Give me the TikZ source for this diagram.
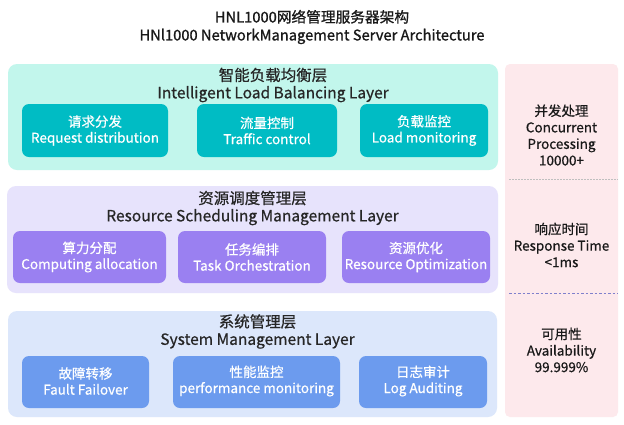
\documentclass[tikz,border=0pt]{standalone}
\usepackage{fontspec}
\setmainfont{Noto Sans CJK SC}
\newfontfamily\medfont{Noto Sans CJK SC}[FakeBold=0.6]
\newfontfamily\semifont{Noto Sans CJK SC}[FakeBold=1.0]
\begin{document}
\begin{tikzpicture}[x=1pt,y=-1pt,
  layer/.style={rounded corners=9pt},
  sub/.style={rounded corners=7pt},
  subtext/.style={text=white,font=\medfont\fontsize{13.5}{16}\selectfont,align=center},
  ltitle/.style={text=black!85,font=\medfont\fontsize{15.5}{17.5}\selectfont,align=center},
  rtext/.style={text=black!90,font=\medfont\fontsize{13.5}{16.5}\selectfont,align=center}]
\definecolor{mintbg}{HTML}{C2F6EC}
\definecolor{tealbx}{HTML}{00BCC4}
\definecolor{lavbg}{HTML}{E7E3FC}
\definecolor{purbx}{HTML}{9A80F1}
\definecolor{bluebg}{HTML}{DCE7FB}
\definecolor{bluebx}{HTML}{6C9BEE}
\definecolor{pinkbg}{HTML}{FDE9EC}
\useasboundingbox (0,0) rectangle (624,424);
\fill[white] (0,0) rectangle (624,424);
% title
\node[font=\semifont\fontsize{14.7}{18}\selectfont,text=black!90,align=center] (title) at (312,27) {HNL1000网络管理服务器架构\\HNl1000 NetworkManagement Server Architecture};
% right panel
\fill[pinkbg,rounded corners=5pt] (505,64) rectangle (618,417);
\coordinate (d1a) at (509,179); \coordinate (d1b) at (618,179);
\coordinate (d2a) at (509,293); \coordinate (d2b) at (618,293);
\draw[black!25,dash pattern=on 1.5pt off 1.5pt,line width=0.6pt] (d1a) -- (d1b);
\draw[black!40!blue!50,dash pattern=on 2.5pt off 2pt,line width=0.6pt] (d2a) -- (d2b);
\node[rtext] (r1) at (561.5,135) {并发处理\\Concurrent\\Processing\\10000+};
\node[rtext] (r2) at (561.5,245) {响应时间\\Response Time\\<1ms};
\node[rtext] (r3) at (561.5,350) {可用性\\Availability\\99.999\%};
% layer 1
\fill[mintbg,layer] (8,64) rectangle (498,170);
\node[ltitle] (l1) at (273,85) {智能负载均衡层\\Intelligent Load Balancing Layer};
\fill[tealbx,sub] (22,104) rectangle (168,157);
\fill[tealbx,sub] (197,104) rectangle (337,157);
\fill[tealbx,sub] (360,104) rectangle (488,157);
\node[subtext] (a1) at (95,130.5) {请求分发\\Request distribution};
\node[subtext] (a2) at (267,130.5) {流量控制\\Traffic control};
\node[subtext] (a3) at (424,130.5) {负载监控\\Load monitoring};
% layer 2
\fill[lavbg,layer] (7,186) rectangle (498,293);
\node[ltitle] (l2) at (252.5,208) {资源调度管理层\\Resource Scheduling Management Layer};
\fill[purbx,sub] (13,231) rectangle (166,283);
\fill[purbx,sub] (178,231) rectangle (326,283);
\fill[purbx,sub] (342,231) rectangle (490,283);
\node[subtext] (b1) at (89.5,257) {算力分配\\Computing allocation};
\node[subtext] (b2) at (252,257) {任务编排\\Task Orchestration};
\node[subtext] (b3) at (416,257) {资源优化\\Resource Optimization};
% layer 3
\fill[bluebg,layer] (8,311) rectangle (497,417);
\node[ltitle] (l3) at (257.5,331.5) {系统管理层\\System Management Layer};
\fill[bluebx,sub] (22,356) rectangle (149,408);
\fill[bluebx,sub] (173,356) rectangle (340,408);
\fill[bluebx,sub] (359,356) rectangle (487,408);
\node[subtext] (c1) at (85.5,381) {故障转移\\Fault Failover};
\node[subtext] (c2) at (256.5,381) {性能监控\\performance monitoring};
\node[subtext] (c3) at (423,381) {日志审计\\Log Auditing};
\end{tikzpicture}
\end{document}
